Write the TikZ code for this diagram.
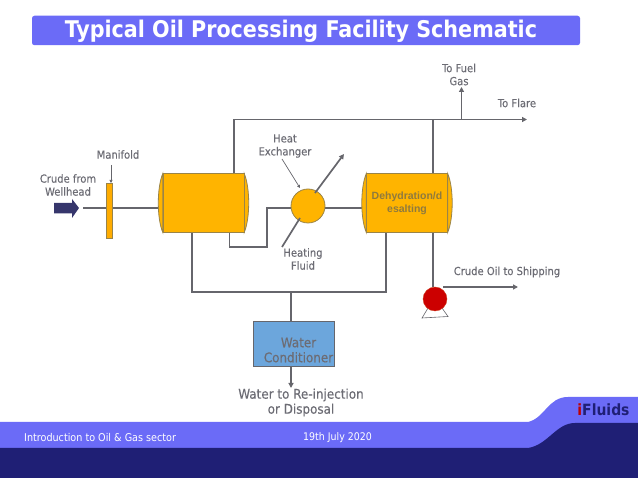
\documentclass[tikz,border=0pt]{standalone}
\usepackage{fontspec}
\setmainfont{DejaVu Sans Condensed}
\newfontfamily\arialf{Liberation Sans}
\newfontfamily\lblf{DejaVu Sans Condensed}[FakeBold=0.25]
\usetikzlibrary{arrows.meta,calc}
\definecolor{pipe}{HTML}{66666C}
\definecolor{lab}{HTML}{6C6C74}
\definecolor{gold}{HTML}{FFB400}
\definecolor{goldedge}{HTML}{9A8448}
\definecolor{goldtext}{HTML}{8F7A3E}
\definecolor{band}{HTML}{6B6BF7}
\definecolor{navy}{HTML}{1F1F75}
\definecolor{wbox}{HTML}{6CA6DC}
\tikzset{
 pipeline/.style={draw=pipe,line width=1.7pt},
 flow/.style={pipeline,-{Triangle[length=5pt,width=5pt]}},
 thin arrow/.style={draw=pipe,line width=0.7pt,-{Triangle[length=3pt,width=3pt]}},
 lbl/.style={text=lab,font=\lblf\fontsize{11.1}{13}\selectfont,align=center,inner sep=0pt},
 lblbig/.style={text=lab,font=\lblf\fontsize{13.3}{15}\selectfont,align=center,inner sep=0pt},
 vessel/.style={draw=goldedge,fill=gold,line width=0.8pt,minimum width=81pt,minimum height=58.5pt,inner sep=0pt},
 vcap/.style={draw=goldedge,fill=gold,line width=0.8pt},
}
\newcommand{\caps}[1]{%
 \path[vcap] (#1.north west) .. controls ($(#1.north west)+(-6,14)$) and ($(#1.south west)+(-6,-14)$) .. (#1.south west) -- cycle;
 \path[vcap] (#1.north east) .. controls ($(#1.north east)+(6,14)$) and ($(#1.south east)+(6,-14)$) .. (#1.south east) -- cycle;}
\begin{document}
\begin{tikzpicture}[x=1pt,y=-1pt]
\useasboundingbox (0,0) rectangle (638,478);
% footer
\fill[band] (0,422) -- (528,422) .. controls (545,418) and (548,397) .. (568,397) -- (638,397) -- (638,478) -- (0,478) -- cycle;
\fill[navy] (0,448) -- (528,448) .. controls (548,445) and (556,423) .. (575,423) -- (638,423) -- (638,478) -- (0,478) -- cycle;
\node[anchor=west,inner sep=0pt,text=white,font=\fontsize{10.7}{13}\selectfont] (ft1) at (24,438) {Introduction to Oil \& Gas sector};
\node[anchor=west,inner sep=0pt,text=white,font=\fontsize{10.5}{13}\selectfont] (ft2) at (303,438) {19th July 2020};
\node[anchor=center,inner sep=0pt,text=navy,font=\bfseries\fontsize{15.5}{16}\selectfont] (logo) at (603.5,409.5) {\textcolor{red!75!black}{i}Fluids};
% title
\node[fill=band,rounded corners=2.5pt,minimum width=548pt,minimum height=29.5pt,inner sep=0pt] (titlebar) at (306,30.5) {};
\node[text=white,font=\bfseries\fontsize{23}{28}\selectfont,inner sep=0pt] (title) at (301,31) {Typical Oil Processing Facility Schematic};
% named points
\coordinate (feedstart) at (83,208);
\coordinate (v1top) at (234,174);
\coordinate (corner1) at (234,119.5);
\coordinate (flare) at (527,119.5);
\coordinate (fuelj) at (461.5,119.5);
\coordinate (fuel) at (461.5,87);
\coordinate (gasj) at (433,119.5);
\coordinate (v2top) at (433,174);
\coordinate (v2bot) at (433,232);
\coordinate (v1out) at (229.5,232);
\coordinate (b1) at (229.5,247);
\coordinate (b2) at (267,247);
\coordinate (b3) at (267,208);
\coordinate (hxin) at (291,208);
\coordinate (hxout) at (325,208);
\coordinate (wl1) at (192,232);
\coordinate (wl2) at (192,292);
\coordinate (wl3) at (386,292);
\coordinate (wl4) at (386,232);
\coordinate (wj) at (291,292);
\coordinate (wb) at (291,321);
\coordinate (wc) at (291,366);
\coordinate (wd) at (291,388);
\coordinate (pin) at (433,287);
\coordinate (pout) at (443,287);
\coordinate (ship) at (518,287);
\coordinate (hf0) at (282,247);
\coordinate (hf1) at (300,218);
\coordinate (hf2) at (315,193);
\coordinate (hf3) at (344,154);
\coordinate (v1in) at (159,208);
\coordinate (v2in) at (362,208);
\coordinate (mfa) at (111,165);
\coordinate (mfb) at (111,183);
\coordinate (hxl) at (282,159);
\coordinate (hxm) at (300,188);
% pipes
\draw[pipeline] (feedstart) -- (v1in);
\draw[flow] (corner1) -- (flare);
\draw[pipeline] (v1top) -- (corner1);
\draw[flow] (fuelj) -- (fuel);
\draw[pipeline] (gasj) -- (v2top);
\draw[pipeline] (v1out) -- (b1) -- (b2) -- (b3) -- (hxin);
\draw[pipeline] (hxout) -- (v2in);
\draw[pipeline] (wl1) -- (wl2) -- (wl3) -- (wl4);
\draw[pipeline] (wj) -- (wb);
\draw[pipeline] (v2bot) -- (pin);
\draw[flow] (pout) -- (ship);
\draw[flow,line width=1.2pt] (wc) -- (wd);
% vessels
\path (203.5,203) node[minimum width=81pt,minimum height=58.5pt,inner sep=0pt] (v1) {};
\path (407,203) node[minimum width=81pt,minimum height=58.5pt,inner sep=0pt] (v2) {};
\caps{v1}
\caps{v2}
\node[vessel] at (v1) {};
\node[vessel,align=center,text=goldtext,font=\arialf\bfseries\fontsize{10.5}{13}\selectfont] (v2t) at (v2) {Dehydration/d\\esalting};
% manifold
\node[draw=goldedge,fill=gold!85!orange,line width=0.6pt,minimum width=6pt,minimum height=55pt,inner sep=0pt] (mf) at (109,210.5) {};
\draw[thin arrow] (mfa) -- (mfb);
% crude arrow
\fill[navy!70!gray!90!black] (54,203) -- (72,203) -- (72,199) -- (79,208) -- (72,218) -- (72,213.5) -- (54,213.5) -- cycle;
% heat exchanger
\node[circle,draw=goldedge,fill=gold,line width=0.8pt,minimum size=34pt,inner sep=0pt] (hx) at (308,206) {};
\draw[pipeline] (hf0) -- (hf1);
\draw[flow] (hf2) -- (hf3);
\draw[thin arrow] (hxl) -- (hxm);
% pump
\coordinate (s1) at (422,318);
\coordinate (s2) at (448,316.5);
\coordinate (s3) at (428,308);
\coordinate (s4) at (442,308);
\draw[draw=pipe,line width=0.6pt] (s3) -- (s1) -- (s2) -- (s4);
\node[circle,draw=goldedge!50!red,fill=red!80!black,line width=0.4pt,minimum size=24pt,inner sep=0pt] (pump) at (435,299) {};
% water conditioner
\node[draw=pipe,fill=wbox,line width=0.7pt,minimum width=81pt,minimum height=45pt,inner sep=0pt] (wbx) at (293.5,343.5) {};
\node[lblbig] (wbt) at (298.5,350) {Water\\Conditioner};
% labels
\node[lbl] (l1) at (118,154.5) {Manifold};
\node[lbl] (l2) at (68,185) {Crude from\\Wellhead};
\node[lbl] (l3) at (285,146) {Heat\\Exchanger};
\node[lbl] (l4) at (303,259) {Heating\\Fluid};
\node[lbl] (l5) at (459,74.5) {To Fuel\\Gas};
\node[lbl] (l6) at (517,103) {To Flare};
\node[lbl] (l7) at (507,272) {Crude Oil to Shipping};
\node[lblbig] (l8) at (301,402.5) {Water to Re-injection\\or Disposal};
\end{tikzpicture}
\end{document}
